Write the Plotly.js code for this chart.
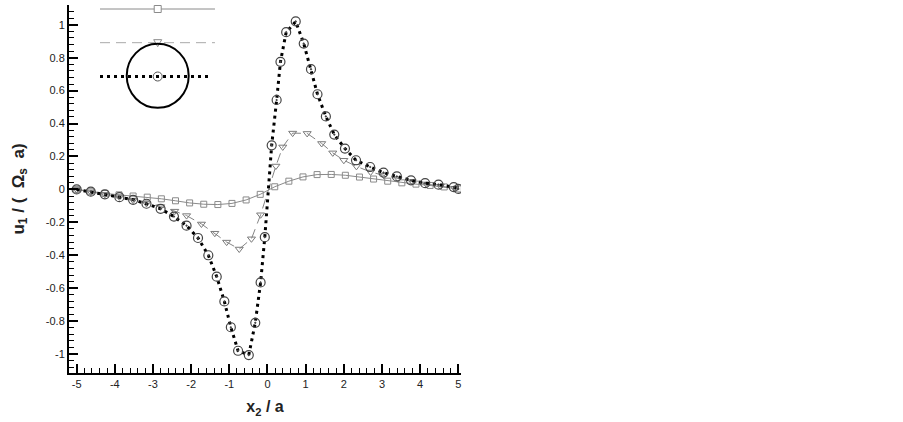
<!DOCTYPE html>
<html>
<head>
<meta charset="utf-8">
<script src="https://cdn.plot.ly/plotly-3.0.1.min.js"></script>
<style>
  html, body { margin: 0; padding: 0; background: #fff; }
  #chart { width: 903px; height: 422px; }
</style>
</head>
<body>
<div id="chart"></div>
<script>
// ---- data ----
const squareX = [-5, -4.63, -4.26, -3.89, -3.52, -3.15, -2.78, -2.41, -2.04, -1.67, -1.30, -0.93, -0.56, -0.19,
                 0.19, 0.56, 0.93, 1.30, 1.67, 2.04, 2.41, 2.78, 3.15, 3.52, 3.89, 4.26, 4.63, 5.0];
const squareY = [0, -0.014, -0.024, -0.033, -0.040, -0.047, -0.057, -0.069, -0.082, -0.090, -0.092, -0.085, -0.064, -0.030,
                 0.016, 0.050, 0.076, 0.090, 0.091, 0.086, 0.075, 0.063, 0.050, 0.040, 0.032, 0.024, 0.015, 0.003];

const triX = [-5, -4.63, -4.26, -3.88, -3.52, -3.17, -2.80, -2.43, -2.12, -1.73, -1.38, -1.07, -0.74, -0.42, -0.18,
              0.22, 0.40, 0.66, 1.04, 1.42, 1.71, 2.00, 2.33, 2.70, 3.05, 3.42, 3.79, 4.16, 4.53, 4.90];
const triY = [0, -0.015, -0.030, -0.045, -0.065, -0.085, -0.104, -0.132, -0.159, -0.210, -0.266, -0.320, -0.362, -0.300, -0.154,
              0.142, 0.258, 0.342, 0.340, 0.279, 0.222, 0.177, 0.140, 0.106, 0.085, 0.065, 0.048, 0.033, 0.020, 0.007];

const circX = [-5, -4.63, -4.26, -3.88, -3.52, -3.17, -2.80, -2.45, -2.12, -1.82, -1.55, -1.33, -1.13, -0.96, -0.77, -0.49, -0.32, -0.18, -0.07,
               0.11, 0.24, 0.34, 0.49, 0.74, 0.95, 1.14, 1.31, 1.53, 1.75, 2.03, 2.32, 2.69, 3.04, 3.39, 3.76, 4.13, 4.48, 4.88, 5.0];
const circY = [0, -0.014, -0.030, -0.047, -0.063, -0.087, -0.118, -0.165, -0.220, -0.295, -0.400, -0.530, -0.680, -0.837, -0.980, -1.006, -0.810, -0.565, -0.290,
               0.268, 0.543, 0.775, 0.955, 1.020, 0.886, 0.730, 0.578, 0.443, 0.333, 0.248, 0.177, 0.136, 0.102, 0.079, 0.055, 0.038, 0.029, 0.014, 0.003];

const xTickVals = [-5, -4, -3, -2, -1, 0, 1, 2, 3, 4, 5];
const xTickText = ['-5', '-4', '-3', '-2', '-1', '0', '1', '2', '3', '4', '5'];
const yTickVals = [-1, -0.8, -0.6, -0.4, -0.2, 0, 0.2, 0.4, 0.6, 0.8, 1];
const yTickText = ['-1', '-0.8', '-0.6', '-0.4', '-0.2', '0', '0.2', '0.4', '0.6', '0.8', '1'];

const grey = '#8a8a8a';
const triGrey = '#7a7a7a';
const dark = '#222222';
const FONT = 'Liberation Sans, Arial, Helvetica, sans-serif';

const traces = [
  {
    x: squareX, y: squareY, type: 'scatter', mode: 'lines+markers',
    line: {color: grey, width: 1},
    marker: {symbol: 'square-open', size: 6, color: grey, line: {width: 1, color: grey}}
  },
  {
    x: triX, y: triY, type: 'scatter', mode: 'lines+markers',
    line: {color: '#858585', width: 1, dash: '10px,6px'},
    marker: {symbol: 'triangle-down-open', size: 7, color: triGrey, line: {width: 1, color: triGrey}}
  },
  {
    x: circX, y: circY, type: 'scatter', mode: 'lines',
    line: {color: '#000', width: 3, dash: '3px,4px'}
  },
  {
    x: circX, y: circY, type: 'scatter', mode: 'markers',
    marker: {symbol: 'circle-open-dot', size: 9, color: '#444', line: {width: 1.2, color: '#444'}}
  }
];

// legend sketch (paper coordinates)
const lx0 = 0.0791, lx1 = 0.3724, lxc = 0.2263;
const ly1 = 0.9891, ly2 = 0.8976, ly3 = 0.8057, lyc = 0.8076;
const shapes = [
  {type: 'line', xref: 'paper', yref: 'paper', x0: lx0, x1: lx1, y0: ly1, y1: ly1, line: {color: grey, width: 1}},
  {type: 'rect', xref: 'paper', yref: 'paper', xsizemode: 'pixel', ysizemode: 'pixel', xanchor: lxc, yanchor: ly1,
   x0: -3.5, x1: 3.5, y0: -3.5, y1: 3.5, line: {color: grey, width: 1}, fillcolor: '#fff'},
  {type: 'line', xref: 'paper', yref: 'paper', x0: lx0, x1: lx1, y0: ly2, y1: ly2, line: {color: '#aaa', width: 1, dash: '10px,6px'}},
  {type: 'path', xref: 'paper', yref: 'paper', xsizemode: 'pixel', ysizemode: 'pixel', xanchor: lxc, yanchor: ly2,
   path: 'M-4,3 L4,3 L0,-4 Z', line: {color: grey, width: 1}, fillcolor: '#fff'},
  {type: 'line', xref: 'paper', yref: 'paper', x0: lx0, x1: 0.3648, y0: ly3, y1: ly3, line: {color: '#000', width: 3, dash: '3px,4px'}},
  {type: 'circle', xref: 'paper', yref: 'paper', xsizemode: 'pixel', ysizemode: 'pixel', xanchor: lxc, yanchor: lyc,
   x0: -31, x1: 31, y0: -32, y1: 32, line: {color: '#000', width: 2}},
  {type: 'circle', xref: 'paper', yref: 'paper', xsizemode: 'pixel', ysizemode: 'pixel', xanchor: lxc, yanchor: ly3,
   x0: -4.5, x1: 4.5, y0: -4.5, y1: 4.5, line: {color: '#555', width: 1}, fillcolor: 'rgba(0,0,0,0)'}
];

const layout = {
  width: 903, height: 422,
  margin: {l: 69, r: 442, t: 5, b: 49, pad: 0},
  paper_bgcolor: '#fff', plot_bgcolor: '#fff',
  showlegend: false,
  font: {family: FONT, size: 11, color: dark},
  xaxis: {
    range: [-5.2, 5.07], showgrid: false, zeroline: false,
    showline: true, linecolor: '#000', linewidth: 2,
    ticks: 'inside', ticklen: 9, tickwidth: 2, tickcolor: '#000',
    tickmode: 'array', tickvals: xTickVals, ticktext: xTickText,
    minor: {dtick: 0.2, tick0: 0, ticks: 'inside', ticklen: 5, tickwidth: 1, tickcolor: '#000', showgrid: false},
    tickfont: {family: FONT, size: 11, color: dark},
    title: {text: '<b>x<sub>2</sub> / a</b>', font: {family: FONT, size: 16, color: dark}, standoff: 12}
  },
  yaxis: {
    range: [-1.115, 1.12], showgrid: false, zeroline: false,
    showline: true, linecolor: '#000', linewidth: 2,
    ticks: 'inside', ticklen: 9, tickwidth: 2, tickcolor: '#000',
    tickmode: 'array', tickvals: yTickVals, ticktext: yTickText,
    minor: {dtick: 0.04, tick0: 0, ticks: 'inside', ticklen: 5, tickwidth: 1, tickcolor: '#000', showgrid: false},
    tickfont: {family: FONT, size: 11, color: dark},
    title: {text: '<b>u<sub>1</sub>&nbsp;/&nbsp;(&nbsp;&nbsp;Ω<sub>s</sub>&nbsp;&nbsp;a)</b>', font: {family: FONT, size: 17, color: dark}, standoff: 17}
  },
  shapes: shapes
};

Plotly.newPlot('chart', traces, layout, {staticPlot: true, displayModeBar: false});
</script>
</body>
</html>
